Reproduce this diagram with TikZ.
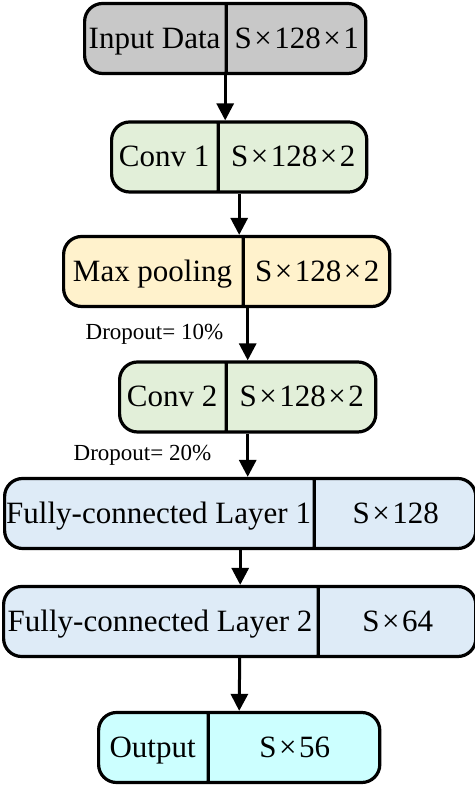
\documentclass[tikz,border=0pt]{standalone}
\usepackage{fontspec}
\setmainfont{Liberation Serif}
\usetikzlibrary{shapes.multipart,arrows.meta,positioning}
\definecolor{ingray}{RGB}{200,200,200}
\definecolor{convgreen}{RGB}{226,239,217}
\definecolor{poolyellow}{RGB}{255,242,204}
\definecolor{fcblue}{RGB}{222,235,247}
\definecolor{outcyan}{RGB}{204,255,255}
\newcommand{\cellbox}[2]{\makebox[#1]{\rule[-25pt]{0pt}{70pt}#2}}
\newcommand{\by}{\hspace{2.5pt}×\hspace{2.5pt}}
\tikzset{
  layer/.style={draw, line width=3.2pt, rounded corners=18pt, rectangle split,
    rectangle split horizontal, rectangle split parts=2, inner xsep=0pt,
    inner ysep=0pt, anchor=west, font=\fontsize{31}{36}\selectfont},
  arr/.style={line width=3pt, -{Triangle[length=17pt,width=17pt]}},
  drop/.style={font=\fontsize{23}{27}\selectfont, inner sep=0pt}
}

\begin{document}
\begin{tikzpicture}[x=1pt,y=1pt]
            \useasboundingbox (0,0) rectangle (474,786);

            \node[layer, fill=ingray] (inp) at (83,747.5) {\cellbox{140pt}{Input Data}\nodepart{two}\cellbox{138pt}{S\by128\by1}};
            \node[layer, fill=convgreen] (conv1) at (110,629) {\cellbox{105pt}{Conv 1}\nodepart{two}\cellbox{147pt}{S\by128\by2}};
            \node[layer, fill=poolyellow] (pool) at (62,514.5) {\cellbox{178pt}{Max pooling}\nodepart{two}\cellbox{145pt}{S\by128\by2}};
            \node[layer, fill=convgreen] (conv2) at (118,389) {\cellbox{105pt}{Conv 2}\nodepart{two}\cellbox{148pt}{S\by128\by2}};
            \node[layer, fill=fcblue] (fc1) at (3,272.5) {\cellbox{308pt}{Fully-connected Layer 1}\nodepart{two}\cellbox{160pt}{S\by128}};
            \node[layer, fill=fcblue] (fc2) at (2,164.5) {\cellbox{313pt}{Fully-connected Layer 2}\nodepart{two}\cellbox{156pt}{S\by64}};
            \node[layer, fill=outcyan] (out) at (97,38.5) {\cellbox{108pt}{Output}\nodepart{two}\cellbox{170pt}{S\by56}};

            \draw[arr] (inp.south) -- (inp.south |- conv1.north);
            \draw[arr] (conv1.south) -- (conv1.south |- pool.north);
            \draw[arr] (pool.south -| conv2.north) -- node[drop, left=23pt] {Dropout= 10\%} (conv2.north);
            \draw[arr] (conv2.south) -- node[drop, left=35pt] {Dropout= 20\%} (conv2.south |- fc1.north);
            \draw[arr] (fc1.south) -- (fc1.south |- fc2.north);
            \draw[arr] (fc2.south) -- (out.north);
        \end{tikzpicture}
\end{document}
